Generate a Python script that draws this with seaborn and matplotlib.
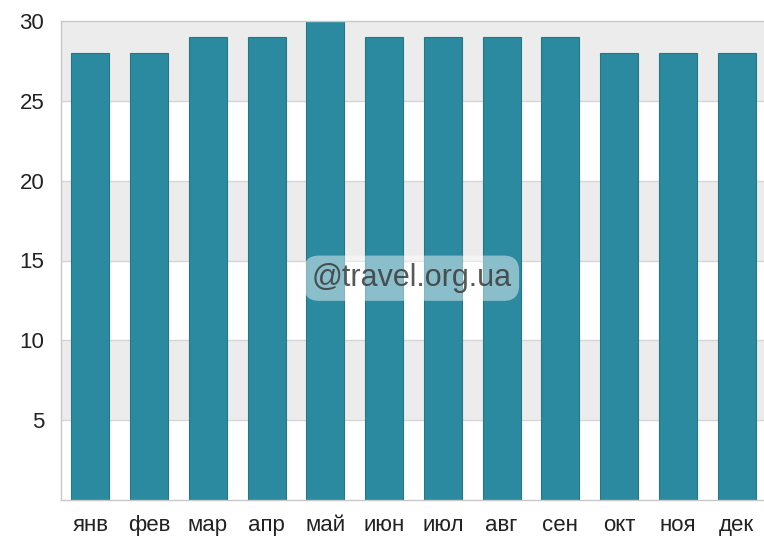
import matplotlib
matplotlib.use('Agg')
import matplotlib.pyplot as plt
import seaborn as sns
import pandas as pd

# monthly values
months = ['янв', 'фев', 'мар', 'апр', 'май', 'июн', 'июл', 'авг', 'сен', 'окт', 'ноя', 'дек']
temps = [28, 28, 29, 29, 30, 29, 29, 29, 29, 28, 28, 28]
yticks = [5, 10, 15, 20, 25, 30]

df = pd.DataFrame({'month': months, 'temp': temps})

sns.set_style('white')
plt.rcParams['font.family'] = ['Liberation Sans', 'DejaVu Sans']

fig = plt.figure(figsize=(7.64, 5.6), dpi=100)
ax = fig.add_axes([61 / 764, 60 / 560, 705 / 764, 479 / 560])

# alternating background bands
for lo in range(0, 30, 5):
    if (lo // 5) % 2 == 1:
        ax.axhspan(lo, lo + 5, color='#ececec', zorder=0, lw=0)
for y in yticks[:-1]:
    ax.axhline(y, color='#d6d6d6', lw=1, zorder=0.5)

sns.barplot(data=df, x='month', y='temp', color='#2b8a9f', width=0.65,
            edgecolor='#237887', linewidth=0.8, saturation=1, ax=ax, zorder=2)

ax.set_xlim(-0.5, 11.5)
ax.set_ylim(0, 30)
ax.set_yticks(yticks)
ax.set_yticklabels([str(t) for t in yticks], fontsize=16, color='#222222')
ax.set_xticks(range(len(months)))
ax.set_xticklabels(months, fontsize=16, color='#222222')
ax.tick_params(axis='y', length=0, pad=12)
ax.tick_params(axis='x', length=0, pad=11)
ax.set_xlabel('')
ax.set_ylabel('')

for side in ['left', 'bottom', 'top']:
    ax.spines[side].set_color('#c8c8c8')
    ax.spines[side].set_linewidth(1)
ax.spines['right'].set_visible(False)

# watermark
ax.text(0.497, 0.463, '@travel.org.ua', transform=ax.transAxes,
        ha='center', va='center', fontsize=22, color='#3a3a3a', alpha=0.85, zorder=5,
        bbox=dict(boxstyle='round,pad=0.25,rounding_size=0.5', fc='white', ec='none', alpha=0.45))

fig.savefig('out.png', dpi=100)
